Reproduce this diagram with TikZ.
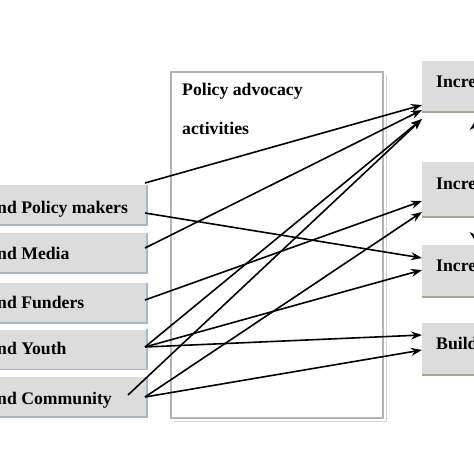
\documentclass[tikz,border=0pt]{standalone}
\usepackage{fontspec}
\setmainfont{Liberation Serif}
\usetikzlibrary{arrows.meta}
\definecolor{boxfill}{HTML}{DCDCDC}
\definecolor{lshadow}{HTML}{A9B8C6}
\definecolor{rshadow}{HTML}{A3A88E}
\definecolor{midborder}{HTML}{B4B4B4}
\tikzset{
  lbox/.style={fill=boxfill, draw=none, minimum width=167pt, minimum height=40pt, inner sep=0pt},
  rbox/.style={fill=boxfill, draw=none, minimum width=80pt, inner sep=0pt},
  mbox/.style={draw=midborder, line width=1.3pt, fill=white, minimum width=212pt, minimum height=346pt, inner sep=0pt},
  txt/.style={font=\bfseries\fontsize{17.7}{21}\selectfont, inner sep=0pt, anchor=base west},
  conn/.style={line width=1.6pt, -{Stealth[length=11pt,width=8pt]}},
  vconn/.style={line width=1.3pt, -{Stealth[length=8pt,width=10pt]}},
}
\begin{document}
\begin{tikzpicture}[x=1pt,y=-1pt]
\useasboundingbox (0,0) rectangle (474,474);
\fill[white] (0,0) rectangle (474,474);
\clip (0,0) rectangle (474,474);

% middle box
\node[mbox] (mid) at (277,245) {};
\draw[midborder!60, line width=0.8pt] (174,421) -- (386,421) -- (386,75);
\node[txt] (pa1) at (182,95) {Policy advocacy};
\node[txt] (pa2) at (182,134) {activities};

% left boxes
\node[lbox] (pm) at (63.5,205) {};
\node[lbox] (me) at (63.5,253) {};
\node[lbox] (fu) at (63.5,303) {};
\node[lbox] (yo) at (63.5,349.5) {};
\node[lbox] (co) at (63.5,397) {};
\foreach \n in {pm,me,fu,yo,co}{
  \draw[lshadow, line width=1.5pt] (\n.north east) -- (\n.south east) -- (\n.south west);
}
\node[txt] (tpm) at (-3,213) {nd Policy makers};
\node[txt] (tme) at (-3,259) {nd Media};
\node[txt] (tfu) at (-3,308) {nd Funders};
\node[txt] (tyo) at (-3,354) {nd Youth};
\node[txt] (tco) at (-3,404) {nd Community};

% right boxes
\node[rbox, minimum height=51pt] (r1) at (462,86.5) {};
\node[rbox, minimum height=55pt] (r2) at (462,189.5) {};
\node[rbox, minimum height=52pt] (r3) at (462,271) {};
\node[rbox, minimum height=52pt] (r4) at (462,349) {};
\foreach \n in {r1,r2,r3,r4}{
  \draw[rshadow, line width=2pt] (\n.south west) -- (\n.south east);
}
\node[txt] (t1) at (436,87) {Incre};
\node[txt] (t2) at (436,189) {Incre};
\node[txt] (t3) at (436,271) {Incre};
\node[txt] (t4) at (436,349) {Build};

% vertical arrows between right boxes
\coordinate (v1a) at (474.6,160);
\coordinate (v1b) at (474.6,122);
\coordinate (v2a) at (474.6,219);
\coordinate (v2b) at (474.6,240);
\draw[vconn] (v1a) -- (v1b);
\draw[vconn] (v2a) -- (v2b);

% connector end points
\coordinate (s0) at (145,183);
\coordinate (spm) at (145,213);
\coordinate (sme) at (145,248);
\coordinate (sfu) at (145,300);
\coordinate (syo) at (145,347);
\coordinate (sci) at (128,395);
\coordinate (sco) at (145,397);
\coordinate (e1a) at (422,105);
\coordinate (e1b) at (422,110);
\coordinate (e1c) at (422,119);
\coordinate (e2a) at (422,201);
\coordinate (e2b) at (422,212);
\coordinate (e3a) at (422,258);
\coordinate (e3b) at (422,270);
\coordinate (e4a) at (422,335);
\coordinate (e4b) at (422,350);

\draw[conn] (s0) -- (e1a);
\draw[conn] (spm) -- (e3a);
\draw[conn] (sme) -- (e1b);
\draw[conn] (sfu) -- (e2a);
\draw[conn] (syo) -- (e1c);
\draw[conn] (syo) -- (e3b);
\draw[conn] (syo) -- (e4a);
\draw[conn] (sci) -- (e1c);
\draw[conn] (sco) -- (e2b);
\draw[conn] (sco) -- (e4b);
\end{tikzpicture}
\end{document}
